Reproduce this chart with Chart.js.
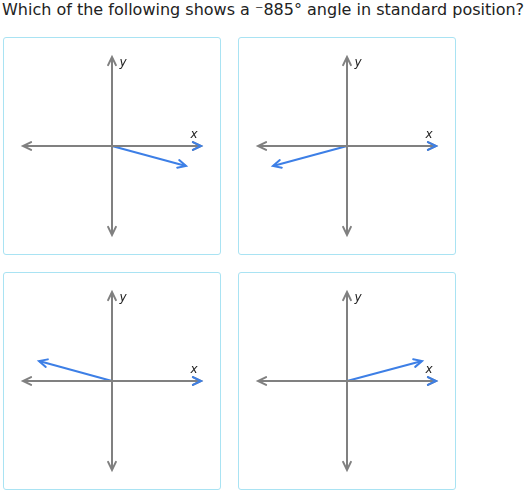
<!DOCTYPE html>
<html><head><meta charset="utf-8">
<script src="https://cdn.jsdelivr.net/npm/chart.js@4"></script>
<style>
body{margin:0;background:#fff;font-family:"DejaVu Sans",sans-serif;}
h1{position:absolute;left:2px;top:0;margin:0;font-size:16px;font-weight:normal;color:#222;white-space:nowrap}
.p{position:absolute;width:216px;height:216px;border:1px solid #a9e3f3;border-radius:3px}
canvas{display:block}
</style></head><body>
<h1>Which of the following shows a &#8315;885&#176; angle in standard position?</h1>
<div class="p" style="left:3px;top:37px"><canvas id="c0" width="216" height="216"></canvas></div>
<div class="p" style="left:238px;top:37px"><canvas id="c1" width="216" height="216"></canvas></div>
<div class="p" style="left:3px;top:272px"><canvas id="c2" width="216" height="216"></canvas></div>
<div class="p" style="left:238px;top:272px"><canvas id="c3" width="216" height="216"></canvas></div>
<script>
const axisEnds = [-89, 89];
const rayX = [74, -74, -73, 75];
const rayY = [-20, -20, 20, 20];
const labels = ['x', 'y'];
const gray = '#808080', blue = '#3d7fe6';

function head(ctx, x0, y0, x1, y1, color){
  const a = Math.atan2(y1 - y0, x1 - x0), L = 9, s = 0.45;
  ctx.save(); ctx.strokeStyle = color; ctx.lineWidth = 2; ctx.lineCap = 'round';
  ctx.beginPath();
  ctx.moveTo(x1 - L*Math.cos(a - s), y1 - L*Math.sin(a - s));
  ctx.lineTo(x1, y1);
  ctx.lineTo(x1 - L*Math.cos(a + s), y1 - L*Math.sin(a + s));
  ctx.stroke(); ctx.restore();
}
const arrows = {
  id: 'arrows',
  afterDatasetsDraw(chart){
    const {ctx, scales:{x, y}} = chart;
    chart.data.datasets.forEach(ds => {
      const pts = ds.data;
      if (ds.both) head(ctx, x.getPixelForValue(pts[1].x), y.getPixelForValue(pts[1].y), x.getPixelForValue(pts[0].x), y.getPixelForValue(pts[0].y), ds.borderColor);
      head(ctx, x.getPixelForValue(pts[0].x), y.getPixelForValue(pts[0].y), x.getPixelForValue(pts[1].x), y.getPixelForValue(pts[1].y), ds.borderColor);
    });
    ctx.save(); ctx.fillStyle = '#222'; ctx.font = 'italic 12px "DejaVu Sans"'; ctx.textAlign = 'center';
    ctx.fillText(labels[0], x.getPixelForValue(82), y.getPixelForValue(8));
    ctx.fillText(labels[1], x.getPixelForValue(11), y.getPixelForValue(80));
    ctx.restore();
  }
};
for (let i = 0; i < 4; i++){
  new Chart(document.getElementById('c' + i), {
    type: 'scatter',
    data: { datasets: [
      { data: [{x: axisEnds[0], y: 0}, {x: axisEnds[1], y: 0}], borderColor: gray, both: true },
      { data: [{x: 0, y: axisEnds[0]}, {x: 0, y: axisEnds[1]}], borderColor: gray, both: true },
      { data: [{x: 0, y: 0}, {x: axisEnds[1], y: 0}], borderColor: blue },
      { data: [{x: 0, y: 0}, {x: rayX[i], y: rayY[i]}], borderColor: blue }
    ].map(d => Object.assign({showLine: true, borderWidth: 2, pointRadius: 0}, d)) },
    options: {
      responsive: false, animation: false, devicePixelRatio: 1,
      layout: {padding: 0},
      plugins: {legend: {display: false}, tooltip: {enabled: false}},
      scales: {
        x: {type: 'linear', min: -108, max: 108, display: false},
        y: {type: 'linear', min: -108, max: 108, display: false}
      }
    },
    plugins: [arrows]
  });
}
</script>
</body></html>
